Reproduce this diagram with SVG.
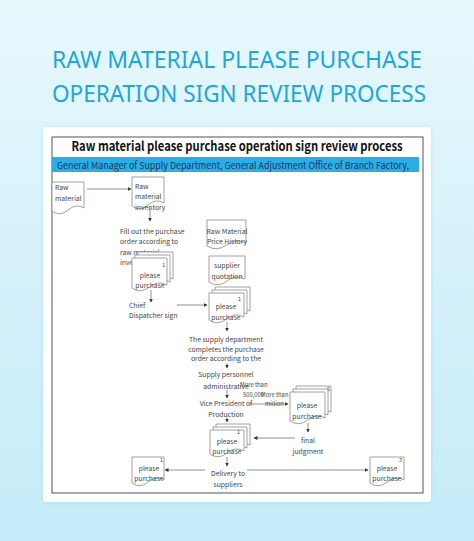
<svg xmlns="http://www.w3.org/2000/svg" width="474" height="541" viewBox="0 0 474 541">
<defs>
<linearGradient id="bg" x1="0" y1="0" x2="0" y2="1">
<stop offset="0" stop-color="#e7f8fd"/>
<stop offset="1" stop-color="#c4ebf8"/>
</linearGradient>
<filter id="sh" x="-5%" y="-5%" width="110%" height="110%">
<feGaussianBlur stdDeviation="2"/>
</filter>
<marker id="ah" markerWidth="4" markerHeight="4" refX="3.5" refY="2" orient="auto" markerUnits="userSpaceOnUse">
<path d="M0,0 L4,2 L0,4 Z" fill="#333"/>
</marker>
<style>
.doc{fill:#fff;stroke:#8a8a8a;stroke-width:0.8}
.lbl{font-family:"Noto Sans CJK SC","Noto Sans",sans-serif;font-size:6.8px;fill:#444}
.mid{text-anchor:middle}
.num{font-family:"Noto Sans CJK SC","Noto Sans",sans-serif;font-size:5.5px;fill:#444}
.sm{font-family:"Noto Sans CJK SC","Noto Sans",sans-serif;font-size:5.8px;fill:#444}
.con{fill:none;stroke:#777;stroke-width:0.8;marker-end:url(#ah)}
</style>
</defs>
<rect width="474" height="541" fill="url(#bg)"/>
<g id="heading">
<text x="237" y="68" text-anchor="middle" font-family="Noto Sans, sans-serif" font-size="23" fill="#1ea6d7" textLength="370" lengthAdjust="spacingAndGlyphs">RAW MATERIAL PLEASE PURCHASE</text>
<text x="239" y="102" text-anchor="middle" font-family="Noto Sans, sans-serif" font-size="23" fill="#1ea6d7" textLength="374" lengthAdjust="spacingAndGlyphs">OPERATION SIGN REVIEW PROCESS</text>
</g>
<rect x="43" y="128" width="388" height="375" rx="3" fill="#9fd9ee" opacity="0.6" filter="url(#sh)"/>
<rect x="43" y="127" width="388" height="375" rx="3" fill="#fff"/>
<rect x="52" y="137" width="371" height="356" fill="none" stroke="#555" stroke-width="1"/>
<text x="237" y="151" text-anchor="middle" font-family="Noto Sans CJK SC, Noto Sans, sans-serif" font-size="13" font-weight="bold" fill="#111" textLength="331" lengthAdjust="spacingAndGlyphs">Raw material please purchase operation sign review process</text>
<rect x="52" y="157" width="367" height="15" fill="#2aaee6"/>
<text x="57" y="168.5" font-family="Noto Sans CJK SC, Noto Sans, sans-serif" font-size="9.5" fill="#1b3663" textLength="352" lengthAdjust="spacingAndGlyphs">General Manager of Supply Department, General Adjustment Office of Branch Factory,</text>

<g id="connectors">
<path class="con" d="M87,189 H131"/>
<path class="con" d="M150,208 V221"/>
<path class="con" d="M151,290 V302"/>
<path class="con" d="M177,305 H207"/>
<path class="con" d="M227,322 V331"/>
<path class="con" d="M227,363 V368"/>
<path class="con" d="M227,390 V398"/>
<path class="con" d="M249,404 H288"/>
<path class="con" d="M308,423 V432"/>
<path class="con" d="M295,438 H254"/>
<path class="con" d="M227,417 V422"/>
<path class="con" d="M227,457 V466"/>
<path class="con" d="M205,470 H165"/>
<path class="con" d="M247,470 H368"/>
</g>

<g id="raw-material">
<path class="doc" d="M52,182 H84 V208 Q76,203 68,210 T52,211 Z"/>
<text class="lbl" x="55" y="190">Raw</text>
<text class="lbl" x="55" y="201">material</text>
</g>
<g id="raw-material-inventory">
<path class="doc" d="M132,177 H164 V203 Q156,198 148,205 T132,206 Z"/>
<text class="lbl" x="135" y="189">Raw</text>
<text class="lbl" x="135" y="199">material</text>
<text class="lbl" x="135" y="210">inventory</text>
</g>
<g id="fill-out">
<text class="lbl" x="120" y="234">Fill out the purchase</text>
<text class="lbl" x="120" y="244">order according to</text>
<text class="lbl" x="120" y="255">raw material</text>
<text class="lbl" x="120" y="265">inventory,</text>
</g>
<g id="purchase-1">
<path class="doc" d="M138,252 H173 V279 Q164.25,274 155.5,281 T138,282 Z"/>
<path class="doc" d="M135,255 H170 V282 Q161.25,277 152.5,284 T135,285 Z"/>
<path class="doc" d="M132,258 H167 V285 Q158.25,280 149.5,287 T132,288 Z"/>
<text class="num" x="162" y="267">1</text>
<text class="lbl mid" x="150" y="278">please</text>
<text class="lbl mid" x="150" y="288">purchase</text>
</g>
<g id="chief-dispatcher">
<text class="lbl" x="129" y="308">Chief</text>
<text class="lbl" x="129" y="318">Dispatcher sign</text>
</g>
<g id="price-history">
<path class="doc" d="M207,220 H246 V243 Q236.25,238 226.5,245 T207,246 Z"/>
<text class="lbl mid" x="227" y="234">Raw Material</text>
<text class="lbl mid" x="227" y="244">Price History</text>
</g>
<g id="supplier-quotation">
<path class="doc" d="M209,256 H245 V279 Q236,274 227,281 T209,282 Z"/>
<text class="lbl mid" x="227" y="268">supplier</text>
<text class="lbl mid" x="227" y="279">quotation</text>
</g>
<g id="purchase-2">
<path class="doc" d="M215,287 H250 V311 Q241.25,306 232.5,313 T215,314 Z"/>
<path class="doc" d="M212,290 H247 V314 Q238.25,309 229.5,316 T212,317 Z"/>
<path class="doc" d="M209,293 H244 V317 Q235.25,312 226.5,319 T209,320 Z"/>
<text class="num" x="238" y="301">1</text>
<text class="lbl mid" x="226" y="309">please</text>
<text class="lbl mid" x="226" y="320">purchase</text>
</g>
<g id="supply-department">
<text class="lbl mid" x="226" y="342">The supply department</text>
<text class="lbl mid" x="226" y="352">completes the purchase</text>
<text class="lbl mid" x="226" y="361">order according to the</text>
</g>
<g id="supply-personnel">
<text class="lbl mid" x="226" y="377">Supply personnel</text>
<text class="lbl mid" x="226" y="389">administrative</text>
</g>
<g id="labels">
<text class="sm" x="240" y="387">More than</text>
<text class="sm" x="243" y="397">500,000</text>
<text class="sm" x="261" y="397">More than 2</text>
<text class="sm" x="265" y="406">million</text>
</g>
<g id="vice-president">
<text class="lbl mid" x="226" y="406">Vice President of</text>
<text class="lbl mid" x="226" y="417">Production</text>
</g>
<g id="purchase-5">
<path class="doc" d="M296,386 H331 V412 Q322.25,407 313.5,414 T296,415 Z"/>
<path class="doc" d="M293,389 H328 V415 Q319.25,410 310.5,417 T293,418 Z"/>
<path class="doc" d="M290,392 H325 V418 Q316.25,413 307.5,420 T290,421 Z"/>
<text class="num" x="327" y="391">5</text>
<text class="lbl mid" x="307" y="408">please</text>
<text class="lbl mid" x="307" y="419">purchase</text>
</g>
<g id="final-judgment">
<text class="lbl mid" x="308" y="443">final</text>
<text class="lbl mid" x="308" y="454">judgment</text>
</g>
<g id="purchase-3">
<path class="doc" d="M216,424 H250 V445 Q241.5,440 233,447 T216,448 Z"/>
<path class="doc" d="M213,427 H247 V448 Q238.5,443 230,450 T213,451 Z"/>
<path class="doc" d="M210,430 H244 V451 Q235.5,446 227,453 T210,454 Z"/>
<text class="num" x="237" y="434">1</text>
<text class="lbl mid" x="227" y="444">please</text>
<text class="lbl mid" x="227" y="454">purchase</text>
</g>
<g id="delivery">
<text class="lbl mid" x="228" y="476">Delivery to</text>
<text class="lbl mid" x="228" y="487">suppliers</text>
</g>
<g id="purchase-left">
<path class="doc" d="M132,457 H164 V480 Q156,475 148,482 T132,483 Z"/>
<text class="num" x="160" y="462">1</text>
<text class="lbl mid" x="149" y="471">please</text>
<text class="lbl mid" x="149" y="481">purchase</text>
</g>
<g id="purchase-right">
<path class="doc" d="M370,457 H404 V480 Q395.5,475 387,482 T370,483 Z"/>
<text class="num" x="399" y="462">3</text>
<text class="lbl mid" x="387" y="471">please</text>
<text class="lbl mid" x="387" y="481">purchase</text>
</g>
</svg>
